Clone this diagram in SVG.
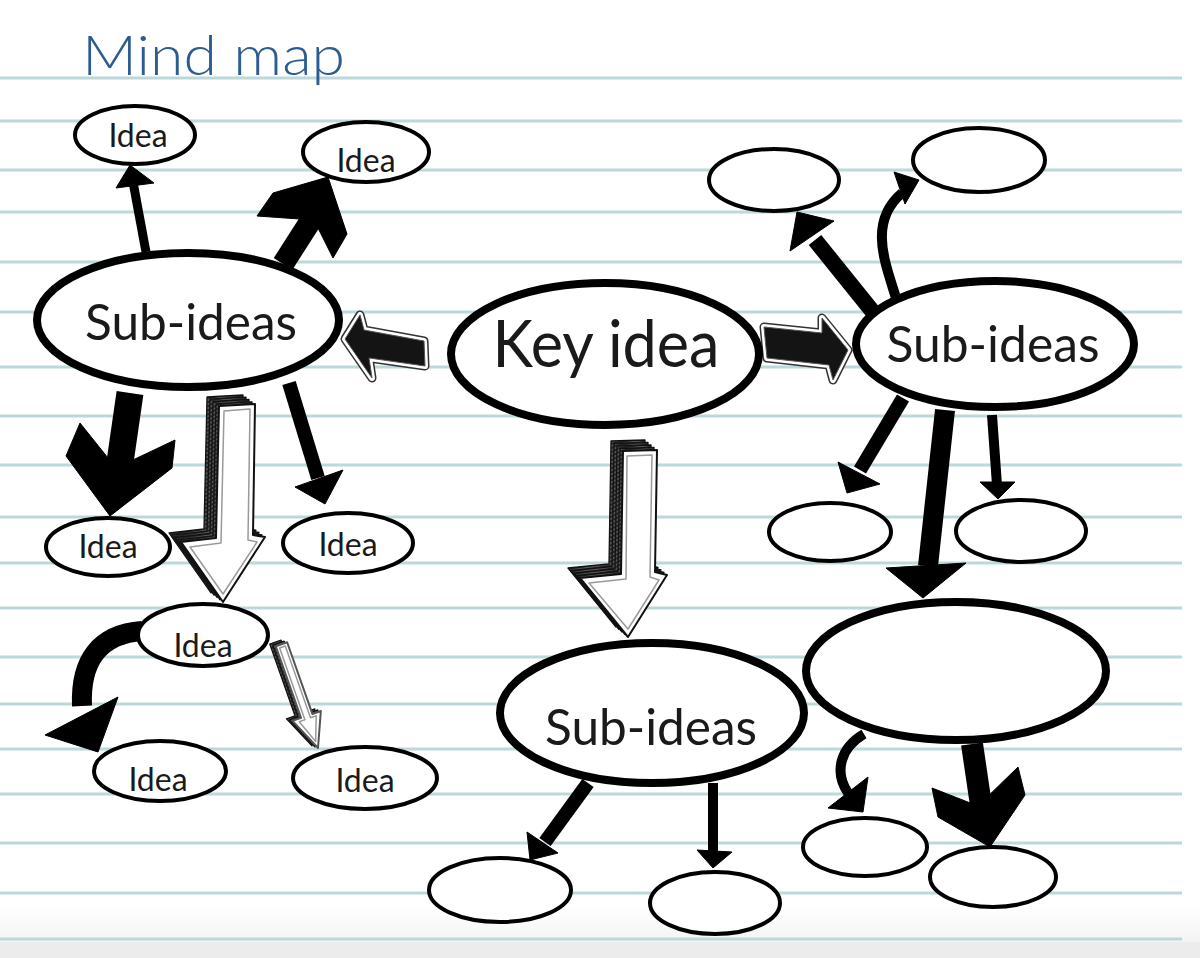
<svg xmlns="http://www.w3.org/2000/svg" width="1200" height="958" viewBox="0 0 1200 958">
<defs>
<style>
.rule{stroke:#bcd8da;stroke-width:3}
.big{fill:#fff;stroke:#000;stroke-width:8}
.small{fill:#fff;stroke:#000;stroke-width:4}
.lbl{font-family:"Lato","DejaVu Sans",sans-serif;fill:#1a1a1a;text-anchor:middle}
.idea{font-size:32px}
.sub{font-size:50px}
.sh{stroke:#000;fill:none;stroke-linecap:butt}
.hd{fill:#000;stroke:#000;stroke-width:1;stroke-linejoin:miter}
.side{fill:url(#hatch);stroke:#111;stroke-width:1.3;stroke-linejoin:round}
.front{fill:#fff;stroke:#111;stroke-width:2;stroke-linejoin:round}
.inner{fill:none;stroke:#9a9a9a;stroke-width:1.5;stroke-linejoin:round}
.blk1{fill:none;stroke:#333;stroke-width:9;stroke-linejoin:round}
.blk2{fill:none;stroke:#fff;stroke-width:6;stroke-linejoin:round}
.blk3{fill:#141414;stroke:#555;stroke-width:1}
</style>
<pattern id="hatch" width="4" height="4" patternUnits="userSpaceOnUse" patternTransform="rotate(80)">
<rect width="4" height="4" fill="#262626"/>
<line x1="1" y1="0" x2="1" y2="4" stroke="#9a9a9a" stroke-width="0.8"/>
</pattern>
<linearGradient id="bot" x1="0" y1="0" x2="0" y2="1">
<stop offset="0" stop-color="#ffffff"/>
<stop offset="1" stop-color="#ececec"/>
</linearGradient>
</defs>

<rect width="1200" height="958" fill="#fff"/>
<rect x="0" y="905" width="1200" height="37" fill="url(#bot)" opacity="0.6"/>
<rect x="0" y="942" width="1200" height="16" fill="#ececec"/>

<g id="paper-lines">
<line class="rule" x1="0" y1="78" x2="1182" y2="78"/>
<line class="rule" x1="0" y1="121" x2="1182" y2="121"/>
<line class="rule" x1="0" y1="170" x2="1182" y2="170"/>
<line class="rule" x1="0" y1="212" x2="1182" y2="212"/>
<line class="rule" x1="0" y1="262" x2="1182" y2="262"/>
<line class="rule" x1="0" y1="312" x2="1182" y2="312"/>
<line class="rule" x1="0" y1="367" x2="1182" y2="367"/>
<line class="rule" x1="0" y1="416" x2="1182" y2="416"/>
<line class="rule" x1="0" y1="465" x2="1182" y2="465"/>
<line class="rule" x1="0" y1="517" x2="1182" y2="517"/>
<line class="rule" x1="0" y1="563" x2="1182" y2="563"/>
<line class="rule" x1="0" y1="608" x2="1182" y2="608"/>
<line class="rule" x1="0" y1="657" x2="1182" y2="657"/>
<line class="rule" x1="0" y1="704" x2="1182" y2="704"/>
<line class="rule" x1="0" y1="749" x2="1182" y2="749"/>
<line class="rule" x1="0" y1="794" x2="1182" y2="794"/>
<line class="rule" x1="0" y1="843" x2="1182" y2="843"/>
<line class="rule" x1="0" y1="893" x2="1182" y2="893"/>
<line class="rule" x1="0" y1="939" x2="1182" y2="939"/>
</g>

<text id="title" x="82" y="75" font-family="Lato, 'DejaVu Sans', sans-serif" font-weight="300" font-size="56" fill="#2d5c91" textLength="263" lengthAdjust="spacingAndGlyphs">Mind map</text>

<g id="connectors">
<!-- left sub-ideas -->
<line class="sh" x1="146" y1="252" x2="133" y2="182" stroke-width="9"/>
<polygon class="hd" points="116,188 130,165 154,183"/>
<line class="sh" x1="283" y1="264" x2="315" y2="214" stroke-width="22"/>
<polygon class="hd" points="328,177 347,234 333,258 314,220 257,216 273,193"/>
<line class="sh" x1="130" y1="393" x2="118" y2="476" stroke-width="27"/>
<polygon class="hd" points="110,516 66,456 80,423 116,468 175,440 172,468"/>
<line class="sh" x1="289" y1="383" x2="318" y2="478" stroke-width="14"/>
<polygon class="hd" points="295,487 343,470 325,504"/>
<!-- hollow arrow: left sub-ideas to idea -->
<g id="hollow-a">
<polygon class="side" transform="translate(-12,-9)" points="219,406 255,404 253,535 265,537 223,602 181,542 216,538"/>
<polygon class="side" transform="translate(-9,-6.8)" points="219,406 255,404 253,535 265,537 223,602 181,542 216,538"/>
<polygon class="side" transform="translate(-6,-4.5)" points="219,406 255,404 253,535 265,537 223,602 181,542 216,538"/>
<polygon class="side" transform="translate(-3,-2.2)" points="219,406 255,404 253,535 265,537 223,602 181,542 216,538"/>
<polygon class="front" points="219,406 255,404 253,535 265,537 223,602 181,542 216,538"/>
<polygon class="inner" points="224,411 250,409 248,540 257,542 223,594 190,547 221,543"/>
</g>
<!-- curved arrow to bottom-left idea -->
<path class="sh" d="M 142 631 C 100 634 80 660 82 706" stroke-width="20"/>
<polygon class="hd" points="45,735 118,697 98,752"/>
<!-- small hollow arrow -->
<g id="hollow-c" transform="translate(318,748) rotate(-19.4)">
<polygon class="side" transform="translate(-5,-4)" points="-6,-110 6,-110 6,-34 15,-34 0,0 -15,-34 -6,-34"/>
<polygon class="side" transform="translate(-2.5,-2)" points="-6,-110 6,-110 6,-34 15,-34 0,0 -15,-34 -6,-34"/>
<polygon class="front" stroke="#666" points="-6,-110 6,-110 6,-34 15,-34 0,0 -15,-34 -6,-34" style="stroke:#555"/>
<polygon class="inner" points="-3,-107 3,-107 3,-31 9,-31 0,-7 -9,-31 -3,-31"/>
</g>
<!-- key idea block arrows -->
<g id="block-left">
<polygon class="blk1" points="345,339 360,315 364,330 424,341 425,366 369,358 372,378"/>
<polygon class="blk2" points="345,339 360,315 364,330 424,341 425,366 369,358 372,378"/>
<polygon class="blk3" points="345,339 360,315 364,330 424,341 425,366 369,358 372,378"/>
</g>
<g id="block-right">
<polygon class="blk1" points="764,327 822,333 822,318 848,350 833,380 829,365 767,358"/>
<polygon class="blk2" points="764,327 822,333 822,318 848,350 833,380 829,365 767,358"/>
<polygon class="blk3" points="764,327 822,333 822,318 848,350 833,380 829,365 767,358"/>
</g>
<g id="hollow-b">
<polygon class="side" transform="translate(-12,-10)" points="623,451 657,450 655,572 667,575 628,637 580,578 621,574"/>
<polygon class="side" transform="translate(-9,-7.5)" points="623,451 657,450 655,572 667,575 628,637 580,578 621,574"/>
<polygon class="side" transform="translate(-6,-5)" points="623,451 657,450 655,572 667,575 628,637 580,578 621,574"/>
<polygon class="side" transform="translate(-3,-2.5)" points="623,451 657,450 655,572 667,575 628,637 580,578 621,574"/>
<polygon class="front" points="623,451 657,450 655,572 667,575 628,637 580,578 621,574"/>
<polygon class="inner" points="627,456 652,455 650,577 659,580 628,629 589,583 626,579"/>
</g>
<!-- right sub-ideas -->
<line class="sh" x1="873" y1="312" x2="815" y2="240" stroke-width="16"/>
<polygon class="hd" points="790,251 797,212 834,221"/>
<path class="sh" d="M 896 298 C 885 262 868 222 902 193" stroke-width="10"/>
<polygon class="hd" points="894,172 919,180 905,204"/>
<line class="sh" x1="903" y1="398" x2="860" y2="470" stroke-width="14"/>
<polygon class="hd" points="838,462 880,484 847,493"/>
<line class="sh" x1="945" y1="410" x2="928" y2="566" stroke-width="20"/>
<polygon class="hd" points="886,568 966,563 923,598"/>
<line class="sh" x1="992" y1="415" x2="997" y2="485" stroke-width="10"/>
<polygon class="hd" points="980,482 1015,482 998,499"/>
<!-- bottom sub-ideas -->
<line class="sh" x1="588" y1="783" x2="545" y2="842" stroke-width="14"/>
<polygon class="hd" points="527,832 558,853 530,860"/>
<line class="sh" x1="713" y1="783" x2="713" y2="852" stroke-width="10"/>
<polygon class="hd" points="697,850 732,852 713,868"/>
<!-- big empty ellipse -->
<path class="sh" d="M 864 734 C 840 748 834 772 848 793" stroke-width="10"/>
<polygon class="hd" points="828,808 868,777 863,812"/>
<line class="sh" x1="972" y1="744" x2="982" y2="812" stroke-width="22"/>
<polygon class="hd" points="990,847 938,817 932,788 978,806 1018,767 1025,795"/>
</g>

<g id="key-idea">
<ellipse class="big" cx="605" cy="354" rx="154" ry="71"/>
<text class="lbl" x="606" y="367" font-size="66" textLength="227" lengthAdjust="spacingAndGlyphs">Key idea</text>
</g>
<g id="sub-left">
<ellipse class="big" cx="188" cy="320" rx="151" ry="67"/>
<text class="lbl sub" x="191" y="340" textLength="212" lengthAdjust="spacingAndGlyphs">Sub-ideas</text>
</g>
<g id="sub-right">
<ellipse class="big" cx="995" cy="344" rx="139" ry="63"/>
<text class="lbl sub" x="993" y="362" textLength="213" lengthAdjust="spacingAndGlyphs">Sub-ideas</text>
</g>
<g id="sub-bottom">
<ellipse class="big" cx="652" cy="713" rx="152" ry="70"/>
<text class="lbl sub" x="651" y="745" textLength="212" lengthAdjust="spacingAndGlyphs">Sub-ideas</text>
</g>
<g id="empty-big">
<ellipse class="big" cx="956" cy="671" rx="150" ry="69"/>
</g>

<g id="idea-tl"><ellipse class="small" cx="135" cy="135" rx="60" ry="29"/><text class="lbl idea" x="138" y="147">Idea</text></g>
<g id="idea-tm"><ellipse class="small" cx="366" cy="152" rx="63" ry="30"/><text class="lbl idea" x="366" y="172">Idea</text></g>
<g id="idea-l"><ellipse class="small" cx="108" cy="547" rx="62" ry="29"/><text class="lbl idea" x="108" y="558">Idea</text></g>
<g id="idea-r"><ellipse class="small" cx="348" cy="543" rx="65" ry="30"/><text class="lbl idea" x="348" y="556">Idea</text></g>
<g id="idea-m"><ellipse class="small" cx="203" cy="635" rx="65" ry="31"/><text class="lbl idea" x="203" y="657">Idea</text></g>
<g id="idea-bl"><ellipse class="small" cx="160" cy="771" rx="66" ry="30"/><text class="lbl idea" x="158" y="791">Idea</text></g>
<g id="idea-br"><ellipse class="small" cx="365" cy="778" rx="72" ry="31"/><text class="lbl idea" x="365" y="792">Idea</text></g>

<g id="empty-r1"><ellipse class="small" cx="774" cy="180" rx="65" ry="31"/></g>
<g id="empty-r2"><ellipse class="small" cx="979" cy="160" rx="66" ry="32"/></g>
<g id="empty-r3"><ellipse class="small" cx="830" cy="532" rx="61" ry="29"/></g>
<g id="empty-r4"><ellipse class="small" cx="1021" cy="531" rx="65" ry="31"/></g>
<g id="empty-b1"><ellipse class="small" cx="500" cy="890" rx="71" ry="32"/></g>
<g id="empty-b2"><ellipse class="small" cx="715" cy="903" rx="65" ry="31"/></g>
<g id="empty-e1"><ellipse class="small" cx="865" cy="847" rx="62" ry="29"/></g>
<g id="empty-e2"><ellipse class="small" cx="993" cy="877" rx="63" ry="30"/></g>
</svg>
